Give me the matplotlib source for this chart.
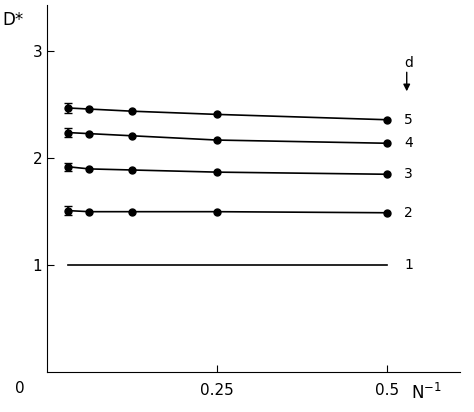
import matplotlib.pyplot as plt

inv_n = [1 / 32, 1 / 16, 1 / 8, 1 / 4, 1 / 2]
d_labels = ["5", "4", "3", "2"]
d_values = [
    [2.47, 2.46, 2.44, 2.41, 2.36],
    [2.24, 2.23, 2.21, 2.17, 2.14],
    [1.92, 1.90, 1.89, 1.87, 1.85],
    [1.51, 1.50, 1.50, 1.50, 1.49],
]
first_err = [0.05, 0.04, 0.04, 0.04]
d1_value = 1.0

fig = plt.figure(figsize=(4.74, 4.12), dpi=100)
ax = fig.add_axes([0.099, 0.097, 0.871, 0.89])

for lab, vals, err in zip(d_labels, d_values, first_err):
    ax.plot(inv_n, vals, "-o", color="black", lw=1.2, ms=5)
    ax.errorbar(inv_n[0], vals[0], yerr=err, color="black", capsize=3, lw=1.2)
    ax.text(0.525, vals[-1], lab, fontsize=10, va="center")
ax.plot([inv_n[0], inv_n[-1]], [d1_value, d1_value], color="black", lw=1.2)
ax.text(0.525, d1_value, "1", fontsize=10, va="center")

ax.text(0.525, 2.85, "d", fontsize=10, ha="left")
ax.annotate("", xy=(0.529, 2.6), xytext=(0.529, 2.83),
            arrowprops=dict(arrowstyle="-|>", color="black", lw=1))

ax.set_xlim(0, 0.607)
ax.set_ylim(0, 3.43)
ax.spines["top"].set_visible(False)
ax.spines["right"].set_visible(False)
ax.set_xticks([0.25, 0.5])
ax.set_xticklabels(["0.25", "0.5"])
ax.set_yticks([1, 2, 3])
ax.tick_params(direction="in", length=5, labelsize=11)
ax.tick_params(axis="x", pad=8)
ax.text(-0.04, -0.2, "0", fontsize=11, ha="center")
ax.text(-0.065, 3.25, "D*", fontsize=12, ha="left")
ax.text(0.535, -0.25, "N$^{-1}$", fontsize=12)

fig.savefig("out.png", dpi=100)
